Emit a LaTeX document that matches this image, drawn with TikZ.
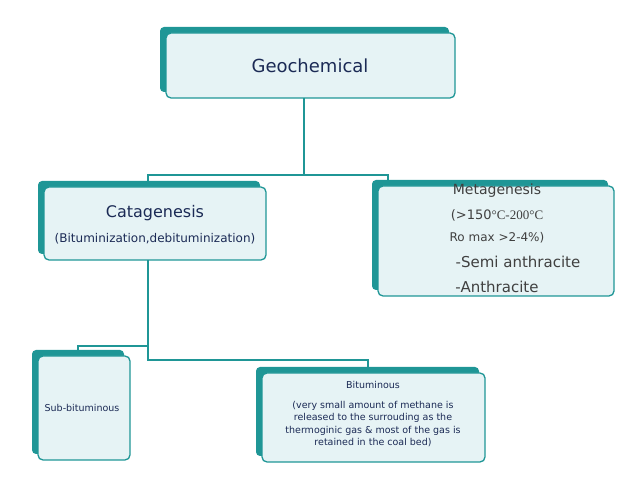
\documentclass[tikz,border=0pt]{standalone}
\usepackage{fontspec}
\setmainfont{DejaVu Sans}
\newfontfamily\serifdeg{Liberation Serif}
\definecolor{teal1}{HTML}{1F9696}
\definecolor{boxfill}{HTML}{E6F3F5}
\definecolor{navy}{HTML}{1B2A55}
\tikzset{
  shad/.style={fill=teal1, rounded corners=4pt},
  front/.style={draw=teal1, fill=boxfill, line width=1.3pt, rounded corners=5pt},
  conn/.style={draw=teal1, line width=1.3pt},
  lbl/.style={text=navy, align=center}
}
\newcommand{\shbox}[5]{% name, x1,y1,x2,y2
  \fill[shad] (#2-6,#3-6) rectangle (#4-6,#5-6);
  \draw[front] (#2,#3) rectangle (#4,#5);
  \coordinate (#1) at ({(#2+#4)/2},{(#3+#5)/2});
}
\begin{document}
\begin{tikzpicture}[x=1pt,y=-1pt]
\useasboundingbox (0,0) rectangle (638,478);
% connectors
\draw[conn] (304,98) -- (304,175);
\draw[conn] (148,181) -- (148,175) -- (388,175) -- (388,181);
\draw[conn] (148,260) -- (148,360) -- (368,360) -- (368,367);
\draw[conn] (78,350) -- (78,346) -- (148,346);
% boxes
\shbox{geo}{166}{33}{455}{98}
\shbox{cat}{44}{187}{266}{260}
\shbox{met}{378}{186}{614}{296}
\shbox{sub}{38}{356}{130}{460}
\shbox{bit}{262}{373}{485}{462}
\node[lbl, font=\fontsize{18}{20}\selectfont] (geot) at (310,66) {Geochemical};
\node[lbl, font=\fontsize{16}{18}\selectfont] (catt1) at (155,213) {Catagenesis};
\node[lbl, font=\fontsize{12}{14}\selectfont] (catt2) at (155,239) {(Bituminization,debituminization)};
\node[text=black!75, font=\fontsize{14}{16}\selectfont] (m1) at (497,191) {Metagenesis};
\node[text=black!75, font=\fontsize{13}{15}\selectfont] (m2) at (497,215) {(>150{\serifdeg °C-200°C}};
\node[text=black!75, font=\fontsize{12}{14}\selectfont] (m3) at (497,238) {Ro max >2-4\%)};
\node[text=black!75, font=\fontsize{15}{17}\selectfont] (m4) at (518,262) {-Semi anthracite};
\node[text=black!75, font=\fontsize{15}{17}\selectfont] (m5) at (497,287) {-Anthracite};
\node[lbl, font=\fontsize{9.5}{11}\selectfont] (subt) at (82,408) {Sub-bituminous};
\node[lbl, font=\fontsize{9.5}{12}\selectfont] (bit1) at (373,385) {Bituminous};
\node[lbl, font=\fontsize{9.5}{12.5}\selectfont] (bit2) at (373,424) {(very small amount of methane is\\released to the surrouding as  the\\thermoginic gas \& most of the gas is\\retained in the coal bed)};
\end{tikzpicture}
\end{document}
